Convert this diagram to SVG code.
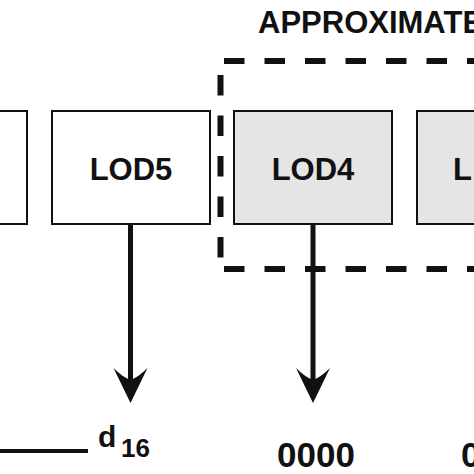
<svg xmlns="http://www.w3.org/2000/svg" width="474" height="474" viewBox="0 0 474 474">
<style>
.box{stroke:#111;stroke-width:2}
.w{fill:#fff}
.g{fill:#e5e5e5}
.lbl{font-family:"Liberation Sans",Arial,sans-serif;font-weight:bold;font-size:31px;fill:#111}
.out{font-family:"Liberation Sans",Arial,sans-serif;font-weight:bold;fill:#111}
.dash{stroke:#111;stroke-width:6;fill:none;stroke-dasharray:20.5 20}
.shaft{stroke:#111;stroke-width:5;fill:none}
</style>
<defs>
<path id="head" d="M0,0 L-17,-35 Q-8,-26 0,-23 Q8,-26 17,-35 Z" fill="#111"/>
</defs>
<rect width="474" height="474" fill="#fff"/>
<g id="group-approximate">
<text class="lbl" x="258" y="33">APPROXIMATE</text>
<line class="dash" x1="224" y1="61" x2="480" y2="61"/>
<line class="dash" x1="220.5" y1="75" x2="220.5" y2="260"/>
<line class="dash" x1="224" y1="269" x2="480" y2="269"/>
</g>
<g id="node-left">
<rect class="box w" x="-10" y="111" width="37" height="113"/>
</g>
<g id="node-lod5">
<rect class="box w" x="52" y="111" width="158" height="113"/>
<text class="lbl" x="131" y="180" text-anchor="middle">LOD5</text>
</g>
<g id="node-lod4">
<rect class="box g" x="234" y="111" width="158" height="113"/>
<text class="lbl" x="313" y="180" text-anchor="middle">LOD4</text>
</g>
<g id="node-right">
<rect class="box g" x="417" y="111" width="80" height="113"/>
<text class="lbl" x="453" y="180">L</text>
</g>
<g id="connectors">
<line class="shaft" x1="130.5" y1="224" x2="130.5" y2="385"/>
<use href="#head" x="130.5" y="403"/>
<line class="shaft" x1="313" y1="224" x2="313" y2="385"/>
<use href="#head" x="313" y="403"/>
<line stroke="#111" stroke-width="4" x1="0" y1="451" x2="88" y2="451"/>
</g>
<g id="outputs">
<text class="out" x="98" y="447" font-size="30">d</text>
<text class="out" x="121" y="457" font-size="26">16</text>
<text class="out" x="277" y="467" font-size="35">0000</text>
<text class="out" x="461" y="467" font-size="35">0</text>
</g>
</svg>
